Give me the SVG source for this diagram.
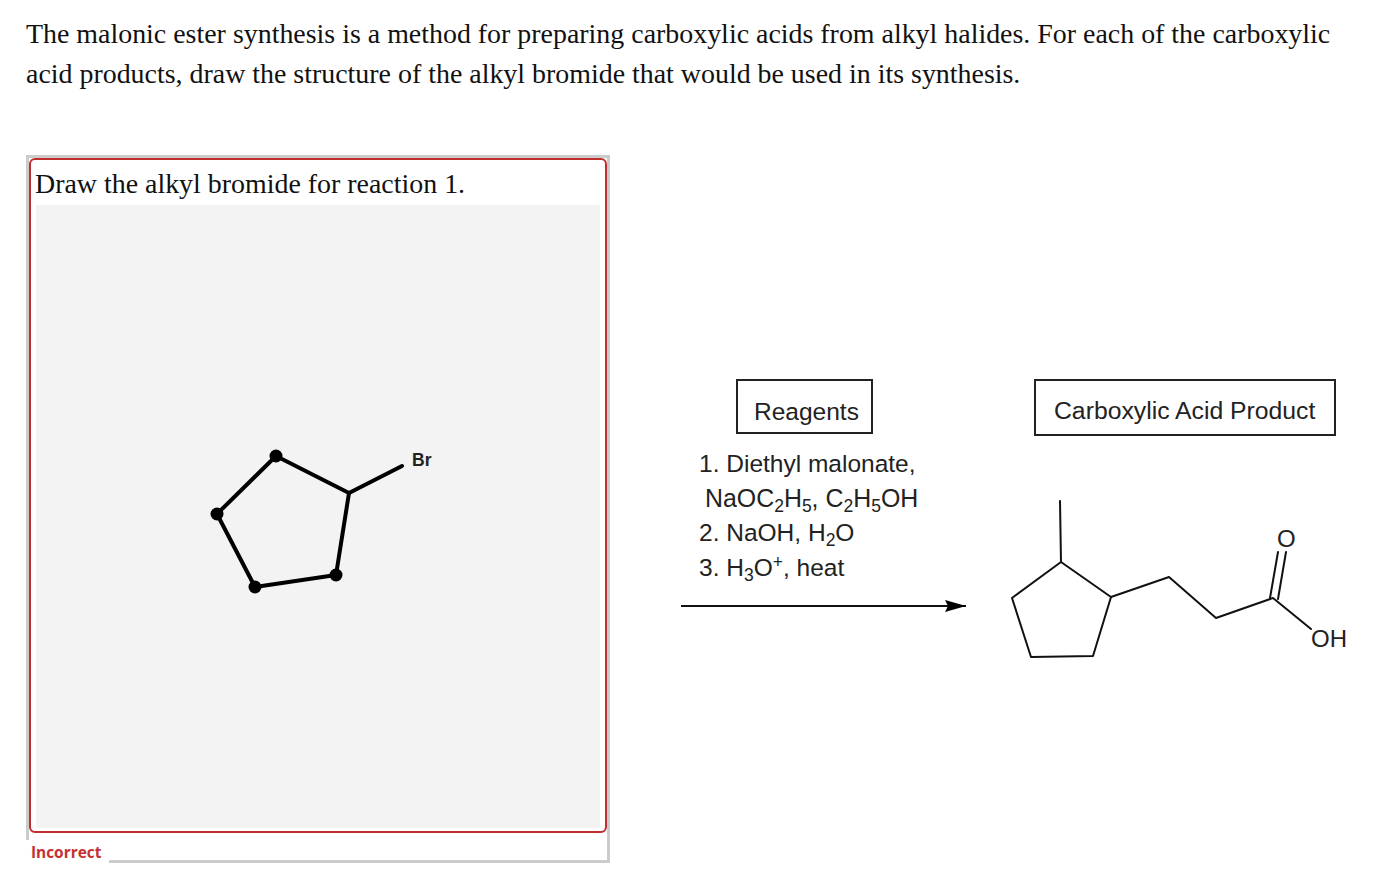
<svg xmlns="http://www.w3.org/2000/svg" width="1374" height="892" viewBox="0 0 1374 892">
<style>
.q{font-family:"Liberation Serif","Times New Roman",serif;font-size:27.92px;fill:#111}
.s{font-family:"Liberation Sans",Arial,sans-serif;font-size:24.5px;fill:#222}
.a{font-family:"Liberation Sans",Arial,sans-serif;font-size:24px;fill:#222}
.sub{font-size:17.5px}
.bond{fill:none;stroke:#111;stroke-width:2;stroke-linecap:round;stroke-linejoin:round}
.ed{fill:none;stroke:#000;stroke-width:4;stroke-linecap:round;stroke-linejoin:round}
.box{fill:#fff;stroke:#222;stroke-width:2}
.frame{fill:#ccc}
</style>
<defs><marker id="ah" markerUnits="userSpaceOnUse" markerWidth="22" markerHeight="14" refX="21" refY="6.5" orient="auto"><path d="M0 0.5L21 6.5L0 12.5L3 6.5Z" fill="#000"/></marker></defs>
<rect width="1374" height="892" fill="#fff"/>
<g id="question">
<text class="q" x="26" y="43">The malonic ester synthesis is a method for preparing carboxylic acids from alkyl halides. For each of the carboxylic</text>
<text class="q" x="26" y="83">acid products, draw the structure of the alkyl bromide that would be used in its synthesis.</text>
</g>
<g id="panel">
<rect class="frame" x="26" y="155" width="584" height="3"/>
<rect class="frame" x="26" y="155" width="3" height="685"/>
<rect class="frame" x="607" y="155" width="3" height="708"/>
<rect class="frame" x="109" y="860" width="501" height="3"/>
<rect x="30" y="159" width="576" height="673" rx="5" fill="#fff" stroke="#c12e2e" stroke-width="2"/>
<rect x="36" y="205" width="564" height="623" fill="#f3f3f3"/>
<text class="q" x="35" y="193">Draw the alkyl bromide for reaction 1.</text>
<text x="31" y="858" style="font-family:'Open Sans','Noto Sans',sans-serif;font-size:15.4px;font-weight:700;fill:#c53030">Incorrect</text>
</g>
<g id="editor-molecule">
<path class="ed" d="M349 493L276 456L217 514L255 587L336 575Z"/>
<path class="ed" d="M349 493L402 466"/>
<circle cx="276" cy="456" r="6.5"/><circle cx="217" cy="514" r="6.5"/><circle cx="255" cy="587" r="6.5"/><circle cx="336" cy="575" r="6.5"/>
<text x="412" y="466" style="font-family:'Liberation Sans',Arial,sans-serif;font-size:17.5px;font-weight:700;fill:#222">Br</text>
</g>
<g id="reagents">
<rect class="box" x="737" y="380" width="135" height="53"/>
<text class="s" x="754" y="420">Reagents</text>
</g>
<g id="reagent-list">
<text class="s" x="699" y="472">1. Diethyl malonate,</text>
<text class="s" x="705" y="507" style="font-size:24.9px">NaOC<tspan class="sub" dy="5">2</tspan><tspan dy="-5">H</tspan><tspan class="sub" dy="5">5</tspan><tspan dy="-5">, C</tspan><tspan class="sub" dy="5">2</tspan><tspan dy="-5">H</tspan><tspan class="sub" dy="5">5</tspan><tspan dy="-5">OH</tspan></text>
<text class="s" x="699" y="541">2. NaOH, H<tspan class="sub" dy="5">2</tspan><tspan dy="-5">O</tspan></text>
<text class="s" x="699" y="576">3. H<tspan class="sub" dy="5">3</tspan><tspan dy="-5">O</tspan><tspan class="sub" dy="-8">+</tspan><tspan dy="8">, heat</tspan></text>
</g>
<g id="product-label">
<rect class="box" x="1035" y="380" width="300" height="55"/>
<text class="s" x="1054" y="419" style="font-size:24.75px">Carboxylic Acid Product</text>
</g>
<g id="connectors">
<line x1="681" y1="606" x2="966" y2="606" stroke="#111" stroke-width="2" marker-end="url(#ah)"/>
</g>
<g id="product-molecule">
<path class="bond" d="M1060 501L1061 562L1111 597L1093 656L1031 657L1012 598L1061 562"/>
<path class="bond" d="M1111 597L1169 577L1216 618L1273 598L1311 629"/>
<path class="bond" d="M1270 598L1278 552M1278 599L1286 552"/>
<text class="a" x="1277" y="547">O</text>
<text class="a" x="1311" y="647">OH</text>
</g>
</svg>
